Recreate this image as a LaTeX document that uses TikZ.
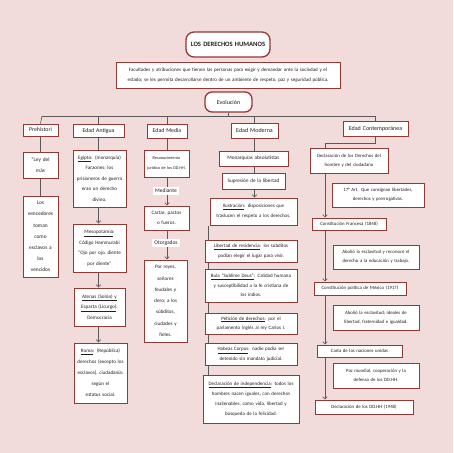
\documentclass[tikz,border=0pt]{standalone}
\usepackage{fontspec}
\setmainfont{Carlito}
\usetikzlibrary{arrows.meta}
\definecolor{bgpink}{HTML}{F2DCDB}
\definecolor{bord}{HTML}{953735}
\definecolor{conn}{HTML}{595959}
\definecolor{txt}{HTML}{1F1F1F}
\tikzset{
  bx/.style={draw=bord, line width=1pt, fill=white, align=center, inner xsep=1.5pt, inner ysep=0pt, text=txt, font=\fontsize{5}{10}\selectfont},
  era/.style={font=\fontsize{6}{8}\selectfont},
  rt/.style={font=\fontsize{4.8}{9}\selectfont},
  rbx/.style={rounded corners=8pt, line width=1.3pt},
  lbl/.style={fill=white, inner xsep=2pt, inner ysep=2pt, text=txt, font=\fontsize{5.5}{7}\selectfont},
  cn/.style={draw=conn, line width=0.6pt},
  ar/.style={cn, -{Straight Barb[length=2.5pt,width=4.5pt]}},
}
\newcommand\bx[7][]{%
  \pgfmathsetmacro\bxcx{(#3+#5)/2}%
  \pgfmathsetmacro\bxcy{(#4+#6)/2}%
  \pgfmathsetmacro\bxw{#5-#3}%
  \pgfmathsetmacro\bxh{#6-#4}%
  \pgfmathsetmacro\bxtw{\bxw-3}%
  \node[bx,#1,minimum width=\bxw pt,minimum height=\bxh pt,text width=\bxtw pt] (#2) at (\bxcx,\bxcy) {#7};}
\begin{document}
\begin{tikzpicture}[x=1pt,y=-1pt]
\fill[bgpink] (0,0) rectangle (453,453);
\useasboundingbox (0,0) rectangle (453,453);

\coordinate (hl) at (42,116);
\coordinate (ml) at (208,0);
\coordinate (rv) at (325,0);
\coordinate (cl) at (325,143);

% top
\bx[rbx,font=\bfseries\fontsize{6.6}{8}\selectfont]{title}{186}{32}{270}{57}{LOS DERECHOS HUMANOS}
\bx{def}{116}{62}{340}{88}{Facultades y atribuciones que tienen las personas para exigir y demandar ante la sociedad y el\\ estado; se les permita desarrollarse dentro de un ambiente de respeto, paz y seguridad pública.}
\bx[rbx,rounded corners=7pt,era]{evol}{205}{92}{252}{112}{Evolución}

% Prehistoria
\bx[era,font=\fontsize{5.8}{8}\selectfont]{prehist}{23}{124}{58}{136}{Prehistori}
\bx[font=\fontsize{5.4}{10.5}\selectfont]{ley}{23}{152}{58}{178}{“Ley del\\ más}
\bx[font=\fontsize{5.4}{11.2}\selectfont]{venc}{23}{196}{58}{277}{Los\\ vencedores\\ toman\\ como\\ esclavos a\\ los\\ vencidos}

% Antigua
\bx[era,font=\fontsize{5.8}{8}\selectfont]{antigua}{73}{124}{124}{137}{Edad Antigua}
\bx[font=\fontsize{5.1}{10.5}\selectfont]{egipto}{73}{150}{126}{207}{\underline{Egipto}: (monarquía)\\ Faraones; los\\ prisioneros de guerra\\ eran un derecho\\ divino.}
\bx[font=\fontsize{5.1}{10.5}\selectfont]{meso}{73}{224}{126}{272}{\underline{Mesopotamia}:\\ Código Hammurabi\\ “Ojo por ojo, diente\\ por diente”}
\bx[font=\fontsize{5.1}{10.5}\selectfont]{atenas}{74}{288}{125}{326}{\underline{Atenas (Solón) y}\\ \underline{Esparta (Licurgo)}:\\ Democracia}
\bx[font=\fontsize{5.1}{11}\selectfont]{roma}{74}{343}{127}{403}{\underline{Roma}: (República)\\ derechos (excepto los\\ esclavos), ciudadanía:\\ según el\\ estatus social.}

% Media
\bx[era,font=\fontsize{5.8}{8}\selectfont]{media}{147}{124}{187}{138}{Edad Media}
\bx[font=\fontsize{4.2}{9.5}\selectfont,inner xsep=0.5pt]{recon}{144}{150}{189}{177}{Reconocimiento\\ jurídico de los DD.HH.}
\bx[font=\fontsize{5.1}{10.5}\selectfont]{cartas}{144}{206}{189}{230}{Cartas, pactos\\ o fueros.}
\bx[font=\fontsize{5.1}{11.3}\selectfont]{reyes}{144}{260}{187}{342}{Por reyes,\\ señores\\ feudales y\\ clero; a los\\ súbditos,\\ ciudades y\\ fieles.}

% Moderna
\bx[era]{moderna}{231}{123}{278}{138}{Edad Moderna}
\bx[font=\fontsize{5.2}{8}\selectfont]{monar}{219}{151}{288}{166}{Monarquías absolutistas}
\bx[font=\fontsize{5.2}{8}\selectfont]{supres}{222}{173}{285}{189}{Supresión de la libertad}
\bx[font=\fontsize{5}{10}\selectfont]{ilus}{210}{198}{297}{225}{\underline{Ilustración}: disposiciones que\\ traslucen el respeto a los derechos.}
\bx[font=\fontsize{5}{9.5}\selectfont]{libertad}{205}{240}{297}{262}{\underline{Libertad de residencia}: los súbditos\\ podían elegir el lugar para vivir.}
\bx[font=\fontsize{5}{9.5}\selectfont]{bula}{205}{269}{297}{302}{\underline{Bula “Sublime Deus”}: Calidad humana\\ y susceptibilidad a la fe cristiana de\\ los indios.}
\bx[font=\fontsize{5}{9.5}\selectfont]{peticion}{205}{313}{297}{334}{\underline{Petición de derechos}: por el\\ parlamento inglés al rey Carlos I.}
\bx[font=\fontsize{5}{9.5}\selectfont]{habeas}{205}{343}{297}{365}{\underline{Habeas Corpus}: nadie podía ser\\ detenido sin mandato judicial.}
\bx[font=\fontsize{5}{10}\selectfont]{declind}{203}{375}{299}{423}{\underline{Declaración de independencia}: todos los\\ hombres nacen iguales, con derechos\\ inalienables, como vida, libertad y\\ búsqueda de la felicidad.}

% Contemporanea
\bx[era]{contemp}{343}{121}{408}{136}{Edad Contemporánea}
\bx[rt]{declh}{310}{148}{388}{173}{Declaración de los Derechos del\\ hombre y del ciudadano}
\bx[rt]{art17}{332}{183}{424}{207}{17° Art. Que consignan libertades,\\ derechos y prerrogativas.}
\bx[rt]{cfran}{312}{218}{386}{230}{Constitución Francesa (1848)}
\bx[rt]{abol1}{333}{245}{419}{269}{Abolió la esclavitud y reconoce el\\ derecho a la educación y trabajo.}
\bx[rt]{cpol}{314}{282}{406}{295}{Constitución política de México (1917)}
\bx[rt]{abol2}{333}{305}{419}{330}{Abolió la esclavitud; ideales de\\ libertad, fraternidad e igualdad.}
\bx[rt]{carta}{317}{345}{402}{357}{Carta de las naciones unidas}
\bx[rt]{paz}{333}{363}{419}{388}{Paz mundial, cooperación y la\\ defensa de los DD.HH.}
\bx[rt]{d1948}{315}{400}{413}{414}{Declaración de los DD.HH (1948)}

% connectors
\draw[cn] (evol.south) -- (evol.south |- hl);
\draw[cn] (hl) -- (contemp.north |- hl);
\draw[cn] (hl) -- (prehist.north);
\draw[cn] (antigua.north |- hl) -- (antigua.north);
\draw[cn] (media.north |- hl) -- (media.north);
\draw[cn] (moderna.north |- hl) -- (moderna.north);
\draw[cn] (contemp.north |- hl) -- (contemp.north);

\draw[cn] (prehist.south) -- (prehist.south |- ley.north);
\draw[cn] (ley.south) -- (ley.south |- venc.north);

\draw[cn] (antigua.south) -- (antigua.south |- egipto.north);
\draw[ar] (antigua.south |- egipto.south) -- (antigua.south |- meso.north);
\draw[ar] (antigua.south |- meso.south) -- (antigua.south |- atenas.north);
\draw[ar] (antigua.south |- atenas.south) -- (antigua.south |- roma.north);

\draw[cn] (media.south) -- (media.south |- recon.north);
\draw[ar] (media.south |- recon.south) -- (media.south |- cartas.north);
\draw[ar] (media.south |- cartas.south) -- (media.south |- reyes.north);
\node[lbl] (mediante) at (166,191) {Mediante};
\node[lbl] (otorgados) at (166,243) {Otorgados};

\draw[cn] (moderna.south) -- (moderna.south |- monar.north);
\draw[cn] (moderna.south |- monar.south) -- (moderna.south |- supres.north);
\draw[ar] (moderna.south |- supres.south) -- (moderna.south |- ilus.north);
\draw[cn] (ml |- ilus.south) -- (ml |- libertad.north);
\draw[cn] (ml |- libertad.south) -- (ml |- bula.north);
\draw[cn] (ml |- bula.south) -- (ml |- peticion.north);
\draw[cn] (ml |- peticion.south) -- (ml |- habeas.north);
\draw[cn] (ml |- habeas.south) -- (ml |- declind.north);

\draw[cn] (contemp.south) -- (contemp.south |- cl) -- (cl) -- (cl |- declh.north);
\draw[ar] (rv |- declh.south) -- (rv |- cfran.north);
\draw[ar] (rv |- cfran.south) -- (rv |- cpol.north);
\draw[ar] (rv |- cpol.south) -- (rv |- carta.north);
\draw[ar] (rv |- carta.south) -- (rv |- d1948.north);
\end{tikzpicture}
\end{document}
